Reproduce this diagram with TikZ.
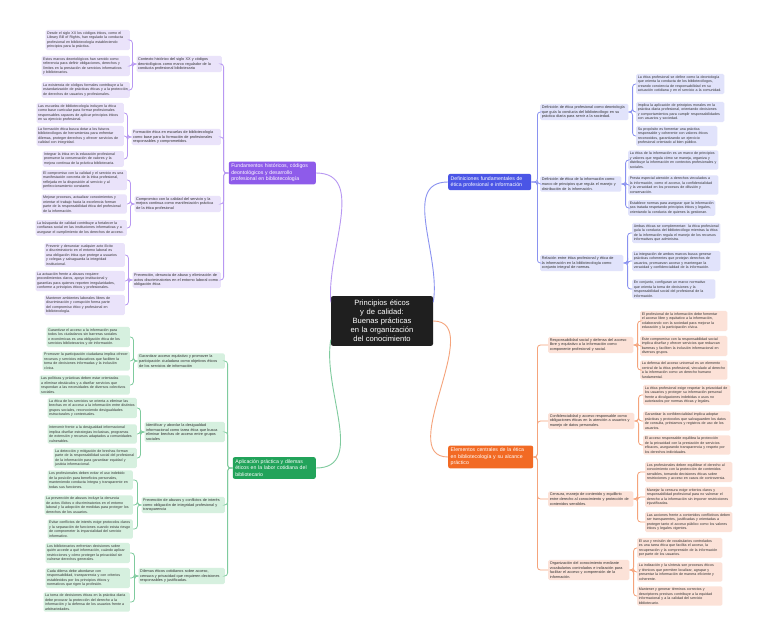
\documentclass[tikz,border=0pt]{standalone}
\usepackage{fontspec}
\setmainfont{Liberation Sans}
\hyphenpenalty=10000 \exhyphenpenalty=10000 \tolerance=9999 \emergencystretch=5pt
\newcommand{\nohy}{\hyphenpenalty=10000\relax}
\definecolor{pM}{HTML}{8E5BEA}\definecolor{pL}{HTML}{EAE3FA}\definecolor{pT}{HTML}{B898F2}
\definecolor{bM}{HTML}{4A55E6}\definecolor{bL}{HTML}{E1E3FB}\definecolor{bT}{HTML}{8A92F0}
\definecolor{oM}{HTML}{F26A24}\definecolor{oL}{HTML}{FCE2D8}\definecolor{oT}{HTML}{F5A47C}
\definecolor{gM}{HTML}{22A35A}\definecolor{gL}{HTML}{D6F0DF}\definecolor{gT}{HTML}{7FCB9E}
\definecolor{rootc}{HTML}{1F1F1F}
\tikzset{
 leaf/.style={rounded corners=1.5,inner sep=1.6,align=left,font=\fontsize{3.6}{4.5}\selectfont\nohy,text=black!80},
 sub/.style={leaf,font=\fontsize{3.8}{4.7}\selectfont\nohy},
 mainn/.style={rounded corners=2,inner sep=2.5,align=left,text=white,font=\fontsize{5.2}{6.4}\selectfont\nohy},
 cn/.style={line width=0.8,rounded corners=3},
}
\begin{document}
\begin{tikzpicture}[x=1pt,y=-1pt]
\useasboundingbox[fill=white] (0,0) rectangle (768,642);
% root
\node[fill=rootc,rounded corners=2,text=white,align=center,text width=94,inner sep=4,font=\fontsize{7.6}{9}\selectfont\nohy] (root) at (382,321) {Principios éticos y de calidad:\\Buenas prácticas en la organización del conocimiento};
% mains
\node[mainn,fill=pM,text width=82,anchor=east] (P) at (316,173) {Fundamentos históricos, códigos deontológicos y desarrollo profesional en bibliotecología};
\node[mainn,fill=bM,text width=78,anchor=west] (B) at (448,182) {Definiciones fundamentales de ética profesional e información};
\node[mainn,fill=oM,text width=80,anchor=west] (O) at (448,457) {Elementos centrales de la ética en bibliotecología y su alcance práctico};
\node[mainn,fill=gM,text width=78,anchor=east] (G) at (316,468) {Aplicación práctica y dilemas éticos en la labor cotidiana del bibliotecario};
\draw[line width=0.9,pT] (root.160) to[out=95,in=0] (P.east);
\draw[line width=0.9,bT] (root.20) to[out=80,in=180] (B.west);
\draw[line width=0.9,oT] (root.east) to[out=0,in=180] (O.west);
\draw[line width=0.9,gT] (root.200) to[out=260,in=0] (G.east);
% ---------- purple
\node[sub,fill=pL,text width=82,anchor=east] (P1) at (222,64) {Contexto histórico del siglo XX y códigos deontológicos como marco regulador de la conducta profesional bibliotecaria};
\node[sub,fill=pL,text width=86,anchor=east] (P2) at (221,137) {Formación ética en escuelas de bibliotecología como base para la formación de profesionales responsables y comprometidos.};
\node[sub,fill=pL,text width=83,anchor=east] (P3) at (221,204) {Compromiso con la calidad del servicio y la mejora continua como manifestación práctica de la ética profesional};
\node[sub,fill=pL,text width=85,anchor=east] (P4) at (221,280) {Prevención, denuncia de abuso y eliminación de actos discriminatorios en el entorno laboral como obligación ética};
\foreach \s in {P1,P2,P3,P4}{\draw[cn,pT] (P.west) -- ++(-5,0) |- (\s.east);}
\node[leaf,fill=pL,text width=81,anchor=east] (p11) at (130,40) {Desde el siglo XX los códigos éticos, como el Library Bill of Rights, han regulado la conducta profesional en bibliotecología estableciendo principios para la práctica.};
\node[leaf,fill=pL,text width=85,anchor=east] (p12) at (130,66) {Estos marcos deontológicos han servido como referencia para definir obligaciones, derechos y límites en la prestación de servicios informativos y bibliotecarios.};
\node[leaf,fill=pL,text width=85,anchor=east] (p13) at (130,90) {La existencia de códigos formales contribuye a la estandarización de prácticas éticas y a la protección de derechos de usuarios y profesionales.};
\node[leaf,fill=pL,text width=84,anchor=east] (p21) at (124,113) {Las escuelas de bibliotecología incluyen la ética como base curricular para formar profesionales responsables capaces de aplicar principios éticos en su ejercicio profesional.};
\node[leaf,fill=pL,text width=84,anchor=east] (p22) at (124,136) {La formación ética busca dotar a los futuros bibliotecólogos de herramientas para enfrentar dilemas, proteger derechos y ofrecer servicios de calidad con integridad.};
\node[leaf,fill=pL,text width=78,anchor=east] (p23) at (124,159) {Integrar la ética en la educación profesional promueve la conservación de valores y la mejora continua de la práctica bibliotecaria.};
\node[leaf,fill=pL,text width=82,anchor=east] (p31) at (127,180) {El compromiso con la calidad y el servicio es una manifestación concreta de la ética profesional, reflejada en la disposición al servicio y al perfeccionamiento constante.};
\node[leaf,fill=pL,text width=82,anchor=east] (p32) at (127,204) {Mejorar procesos, actualizar conocimientos y orientar el trabajo hacia la excelencia forman parte de la responsabilidad ética del profesional de la información.};
\node[leaf,fill=pL,text width=88,anchor=east] (p33) at (127,228) {La búsqueda de calidad contribuye a fortalecer la confianza social en las instituciones informativas y a asegurar el cumplimiento de los derechos de acceso.};
\node[leaf,fill=pL,text width=77,anchor=east] (p41) at (125,255) {Prevenir y denunciar cualquier acto ilícito o discriminatorio en el entorno laboral es una obligación ética que protege a usuarios y colegas y salvaguarda la integridad institucional.};
\node[leaf,fill=pL,text width=86,anchor=east] (p42) at (125,281) {La actuación frente a abusos requiere procedimientos claros, apoyo institucional y garantías para quienes reporten irregularidades, conforme a principios éticos y profesionales.};
\node[leaf,fill=pL,text width=77,anchor=east] (p43) at (125,305) {Mantener ambientes laborales libres de discriminación y corrupción forma parte del compromiso ético y profesional en bibliotecología.};
\foreach \a/\b in {P1/p11,P1/p12,P1/p13,P2/p21,P2/p22,P2/p23,P3/p31,P3/p32,P3/p33,P4/p41,P4/p42,P4/p43}{\draw[cn,pT] (\a.west) -- ++(-4,0) |- (\b.east);}
% ---------- blue
\node[sub,fill=bL,text width=85,anchor=west] (B1) at (540,112) {Definición de ética profesional como deontología que guía la conducta del bibliotecólogo en su práctica diaria para servir a la sociedad.};
\node[sub,fill=bL,text width=78,anchor=west] (B2) at (540,184) {Definición de ética de la información como marco de principios que regula el manejo y distribución de la información.};
\node[sub,fill=bL,text width=80,anchor=west] (B3) at (540,263) {Relación entre ética profesional y ética de la información en la bibliotecología como conjunto integral de normas.};
\foreach \s in {B1,B2,B3}{\draw[cn,bT] (B.east) -- ++(6,0) |- (\s.west);}
\node[leaf,fill=bL,text width=85,anchor=west] (b11) at (636,84) {La ética profesional se define como la deontología que orienta la conducta de los bibliotecólogos, creando conciencia de responsabilidad en su actuación cotidiana y en el servicio a la comunidad.};
\node[leaf,fill=bL,text width=85,anchor=west] (b12) at (636,112) {Implica la aplicación de principios morales en la práctica diaria profesional, orientando decisiones y comportamientos para cumplir responsabilidades con usuarios y sociedad.};
\node[leaf,fill=bL,text width=78,anchor=west] (b13) at (636,136) {Su propósito es fomentar una práctica responsable y coherente con valores éticos reconocidos, garantizando un ejercicio profesional orientado al bien público.};
\node[leaf,fill=bL,text width=87,anchor=west] (b21) at (628,160) {La ética de la información es un marco de principios y valores que regula cómo se maneja, organiza y distribuye la información en contextos profesionales y sociales.};
\node[leaf,fill=bL,text width=87,anchor=west] (b22) at (628,185) {Presta especial atención a derechos vinculados a la información, como el acceso, la confidencialidad y la veracidad en los procesos de difusión y conservación.};
\node[leaf,fill=bL,text width=84,anchor=west] (b23) at (628,208) {Establece normas para asegurar que la información sea tratada respetando principios éticos y legales, orientando la conducta de quienes la gestionan.};
\node[leaf,fill=bL,text width=85,anchor=west] (b31) at (632,233) {Ambas éticas se complementan: la ética profesional guía la conducta del bibliotecólogo mientras la ética de la información regula el manejo de los recursos informativos que administra.};
\node[leaf,fill=bL,text width=85,anchor=west] (b32) at (632,261) {La integración de ambos marcos busca generar prácticas coherentes que protejan derechos de usuarios, promuevan acceso y mantengan la veracidad y confidencialidad de la información.};
\node[leaf,fill=bL,text width=80,anchor=west] (b33) at (632,289) {En conjunto, configuran un marco normativo que orienta la toma de decisiones y la responsabilidad social del profesional de la información.};
\foreach \a/\b in {B1/b11,B1/b12,B1/b13,B2/b21,B2/b22,B2/b23,B3/b31,B3/b32,B3/b33}{\draw[cn,bT] (\a.east) -- ++(4,0) |- (\b.west);}
% ---------- orange
\node[sub,fill=oL,text width=82,anchor=west] (O1) at (548,345) {Responsabilidad social y defensa del acceso libre y equitativo a la información como componente profesional y social.};
\node[sub,fill=oL,text width=83,anchor=west] (O2) at (548,421) {Confidencialidad y acceso responsable como obligaciones éticas en la atención a usuarios y manejo de datos personales.};
\node[sub,fill=oL,text width=82,anchor=west] (O3) at (548,499) {Censura, manejo de contenido y equilibrio entre derecho al conocimiento y protección de contenidos sensibles.};
\node[sub,fill=oL,text width=78,anchor=west] (O4) at (548,570) {Organización del conocimiento mediante vocabularios controlados e indización para facilitar el acceso y comprensión de la información.};
\foreach \s in {O1,O2,O3,O4}{\draw[cn,oT] (O.east) -- ++(4,0) |- (\s.west);}
\node[leaf,fill=oL,text width=84,anchor=west] (o11) at (640,321) {El profesional de la información debe fomentar el acceso libre y equitativo a la información, colaborando con la sociedad para mejorar la educación y la participación cívica.};
\node[leaf,fill=oL,text width=84,anchor=west] (o12) at (640,346) {Este compromiso con la responsabilidad social implica diseñar y ofrecer servicios que reduzcan barreras y faciliten la inclusión informacional en diversos grupos.};
\node[leaf,fill=oL,text width=84,anchor=west] (o13) at (640,370) {La defensa del acceso universal es un elemento central de la ética profesional, vinculado al derecho a la información como un derecho humano fundamental.};
\node[leaf,fill=oL,text width=84,anchor=west] (o21) at (643,395) {La ética profesional exige respetar la privacidad de los usuarios y proteger su información personal frente a divulgaciones indebidas o usos no autorizados por normas éticas y legales.};
\node[leaf,fill=oL,text width=84,anchor=west] (o22) at (643,421) {Garantizar la confidencialidad implica adoptar prácticas y protocolos que salvaguarden los datos de consulta, préstamos y registros de uso de los usuarios.};
\node[leaf,fill=oL,text width=84,anchor=west] (o23) at (643,445) {El acceso responsable equilibra la protección de la privacidad con la prestación de servicios eficaces, asegurando transparencia y respeto por los derechos individuales.};
\node[leaf,fill=oL,text width=84,anchor=west] (o31) at (645,472) {Los profesionales deben equilibrar el derecho al conocimiento con la protección de contenidos sensibles, tomando decisiones éticas sobre restricciones y acceso en casos de controversia.};
\node[leaf,fill=oL,text width=84,anchor=west] (o32) at (645,497) {Manejar la censura exige criterios claros y responsabilidad profesional para no vulnerar el derecho a la información sin imponer restricciones injustificadas.};
\node[leaf,fill=oL,text width=84,anchor=west] (o33) at (645,522) {Las acciones frente a contenidos conflictivos deben ser transparentes, justificadas y orientadas a proteger tanto el acceso público como los valores éticos y legales vigentes.};
\node[leaf,fill=oL,text width=82,anchor=west] (o41) at (637,548) {El uso y revisión de vocabularios controlados es una tarea ética que facilita el acceso, la recuperación y la comprensión de la información por parte de los usuarios.};
\node[leaf,fill=oL,text width=82,anchor=west] (o42) at (637,572) {La indización y la síntesis son procesos éticos y técnicos que permiten localizar, agrupar y presentar la información de manera eficiente y coherente.};
\node[leaf,fill=oL,text width=82,anchor=west] (o43) at (637,596) {Mantener y generar términos correctos y descriptores precisos contribuye a la equidad informacional y a la calidad del servicio bibliotecario.};
\foreach \a/\b in {O1/o11,O1/o12,O1/o13,O2/o21,O2/o22,O2/o23,O3/o31,O3/o32,O3/o33,O4/o41,O4/o42,O4/o43}{\draw[cn,oT] (\a.east) -- ++(4,0) |- (\b.west);}
% ---------- green
\node[sub,fill=gL,text width=84,anchor=east] (G1) at (225,361) {Garantizar acceso equitativo y promover la participación ciudadana como objetivos éticos de los servicios de información};
\node[sub,fill=gL,text width=77,anchor=east] (G2) at (225,432) {Identificar y abordar la desigualdad informacional como tarea ética que busca eliminar brechas de acceso entre grupos sociales};
\node[sub,fill=gL,text width=80,anchor=east] (G3) at (225,505) {Prevención de abusos y conflictos de interés como obligación de integridad profesional y transparencia};
\node[sub,fill=gL,text width=83,anchor=east] (G4) at (225,576) {Dilemas éticos cotidianos sobre acceso, censura y privacidad que requieren decisiones responsables y justificadas.};
\foreach \s in {G1,G2,G3,G4}{\draw[cn,gT] (G.west) -- ++(-5,0) |- (\s.east);}
\node[leaf,fill=gL,text width=80,anchor=east] (g11) at (130,337) {Garantizar el acceso a la información para todos los ciudadanos sin barreras sociales o económicas es una obligación ética de los servicios bibliotecarios y de información.};
\node[leaf,fill=gL,text width=84,anchor=east] (g12) at (130,361) {Promover la participación ciudadana implica ofrecer recursos y servicios educativos que faciliten la toma de decisiones informadas y la inclusión cívica.};
\node[leaf,fill=gL,text width=87,anchor=east] (g13) at (130,385) {Las políticas y prácticas deben estar orientadas a eliminar obstáculos y a diseñar servicios que respondan a las necesidades de diversos colectivos sociales.};
\node[leaf,fill=gL,text width=86,anchor=east] (g21) at (137,408) {La ética de los servicios se orienta a eliminar las brechas en el acceso a la información entre distintos grupos sociales, reconociendo desigualdades estructurales y contextuales.};
\node[leaf,fill=gL,text width=86,anchor=east] (g22) at (137,434) {Intervenir frente a la desigualdad informacional implica diseñar estrategias inclusivas, programas de extensión y recursos adaptados a comunidades vulnerables.};
\node[leaf,fill=gL,text width=80,anchor=east] (g23) at (137,458) {La detección y mitigación de brechas forman parte de la responsabilidad social del profesional de la información para garantizar equidad y justicia informacional.};
\node[leaf,fill=gL,text width=82,anchor=east] (g31) at (133,480) {Los profesionales deben evitar el uso indebido de la posición para beneficios personales, manteniendo conducta íntegra y transparente en todas sus funciones.};
\node[leaf,fill=gL,text width=85,anchor=east] (g32) at (133,505) {La prevención de abusos incluye la denuncia de actos ilícitos o discriminatorios en el entorno laboral y la adopción de medidas para proteger los derechos de los usuarios.};
\node[leaf,fill=gL,text width=82,anchor=east] (g33) at (133,529) {Evitar conflictos de interés exige protocolos claros y la separación de funciones cuando exista riesgo de comprometer la imparcialidad del servicio informativo.};
\node[leaf,fill=gL,text width=81,anchor=east] (g41) at (130,553) {Los bibliotecarios enfrentan decisiones sobre quién accede a qué información, cuándo aplicar restricciones y cómo proteger la privacidad sin vulnerar derechos generales.};
\node[leaf,fill=gL,text width=81,anchor=east] (g42) at (130,578) {Cada dilema debe abordarse con responsabilidad, transparencia y con criterios establecidos por los principios éticos y normativos que rigen la profesión.};
\node[leaf,fill=gL,text width=83,anchor=east] (g43) at (130,602) {La toma de decisiones éticas en la práctica diaria debe procurar la protección del derecho a la información y la defensa de los usuarios frente a arbitrariedades.};
\foreach \a/\b in {G1/g11,G1/g12,G1/g13,G2/g21,G2/g22,G2/g23,G3/g31,G3/g32,G3/g33,G4/g41,G4/g42,G4/g43}{\draw[cn,gT] (\a.west) -- ++(-4,0) |- (\b.east);}
\end{tikzpicture}
\end{document}
